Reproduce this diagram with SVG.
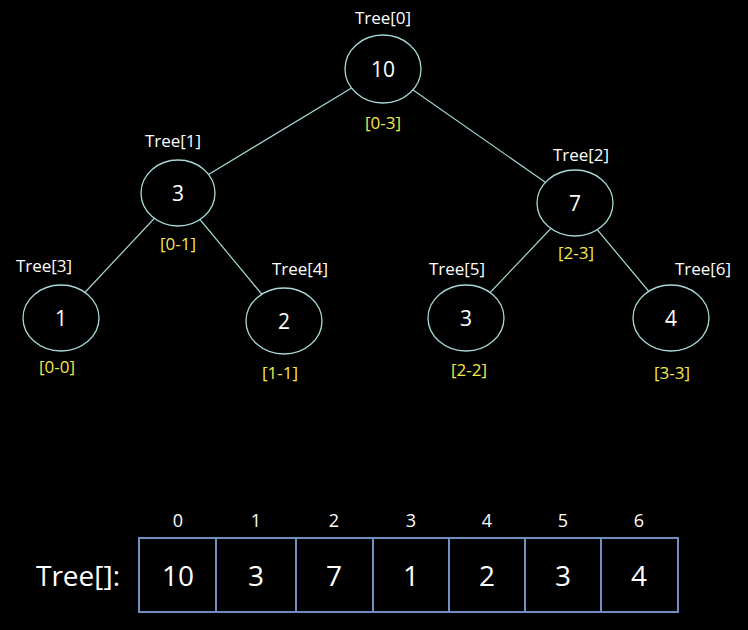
<svg xmlns="http://www.w3.org/2000/svg" width="748" height="630" viewBox="0 0 748 630">
<style>
text{font-family:"Open Sans","Noto Sans",sans-serif;text-anchor:middle}
.n ellipse{fill:#000;stroke:#a8d8d8;stroke-width:1.3}
.v{fill:#fff;font-size:21px}
.t{fill:#fff;font-size:17px}
.r{fill:#f5e84a;font-size:17px}
.c line{stroke:#a8d8d8;stroke-width:1.2}
.cell{fill:#000;stroke:#6f8fc0;stroke-width:2}
.a{fill:#fff;font-size:28px}
.i{fill:#fff;font-size:18px}
</style>
<rect width="748" height="630" fill="#000"/>
<g class="c" id="edges">
<line x1="383" y1="69" x2="178" y2="193"/>
<line x1="383" y1="69" x2="575" y2="203"/>
<line x1="178" y1="193" x2="61" y2="318"/>
<line x1="178" y1="193" x2="284" y2="321"/>
<line x1="575" y1="203" x2="466" y2="318"/>
<line x1="575" y1="203" x2="671" y2="318"/>
</g>
<g class="n" id="n0"><ellipse cx="383" cy="69" rx="38" ry="34"/><text class="v" x="383" y="77">10</text><text class="t" x="383" y="24">Tree[0]</text><text class="r" x="383" y="129">[0-3]</text></g>
<g class="n" id="n1"><ellipse cx="178" cy="193" rx="37" ry="33"/><text class="v" x="178" y="201">3</text><text class="t" x="173" y="147">Tree[1]</text><text class="r" x="178" y="250">[0-1]</text></g>
<g class="n" id="n2"><ellipse cx="575" cy="203" rx="38" ry="33"/><text class="v" x="575" y="211">7</text><text class="t" x="581" y="161">Tree[2]</text><text class="r" x="576" y="259">[2-3]</text></g>
<g class="n" id="n3"><ellipse cx="61" cy="318" rx="38" ry="33"/><text class="v" x="61" y="326">1</text><text class="t" x="44" y="272">Tree[3]</text><text class="r" x="57" y="373">[0-0]</text></g>
<g class="n" id="n4"><ellipse cx="284" cy="321" rx="38" ry="33"/><text class="v" x="284" y="329">2</text><text class="t" x="300" y="275">Tree[4]</text><text class="r" x="280" y="379">[1-1]</text></g>
<g class="n" id="n5"><ellipse cx="466" cy="318" rx="38" ry="33"/><text class="v" x="466" y="326">3</text><text class="t" x="457" y="275">Tree[5]</text><text class="r" x="469" y="376">[2-2]</text></g>
<g class="n" id="n6"><ellipse cx="671" cy="318" rx="38" ry="33"/><text class="v" x="671" y="326">4</text><text class="t" x="703" y="275">Tree[6]</text><text class="r" x="672" y="379">[3-3]</text></g>
<g id="array">
<text class="a" x="78" y="586">Tree[]:</text>
<rect class="cell" x="139" y="538" width="77" height="74"/>
<rect class="cell" x="216" y="538" width="80" height="74"/>
<rect class="cell" x="296" y="538" width="77" height="74"/>
<rect class="cell" x="373" y="538" width="76" height="74"/>
<rect class="cell" x="449" y="538" width="76" height="74"/>
<rect class="cell" x="525" y="538" width="76" height="74"/>
<rect class="cell" x="601" y="538" width="77" height="74"/>
<text class="a" x="178" y="586">10</text><text class="a" x="256" y="586">3</text><text class="a" x="334" y="586">7</text><text class="a" x="411" y="586">1</text><text class="a" x="487" y="586">2</text><text class="a" x="563" y="586">3</text><text class="a" x="639" y="586">4</text>
<text class="i" x="178" y="527">0</text><text class="i" x="256" y="527">1</text><text class="i" x="334" y="527">2</text><text class="i" x="411" y="527">3</text><text class="i" x="487" y="527">4</text><text class="i" x="563" y="527">5</text><text class="i" x="639" y="527">6</text>
</g>
</svg>
